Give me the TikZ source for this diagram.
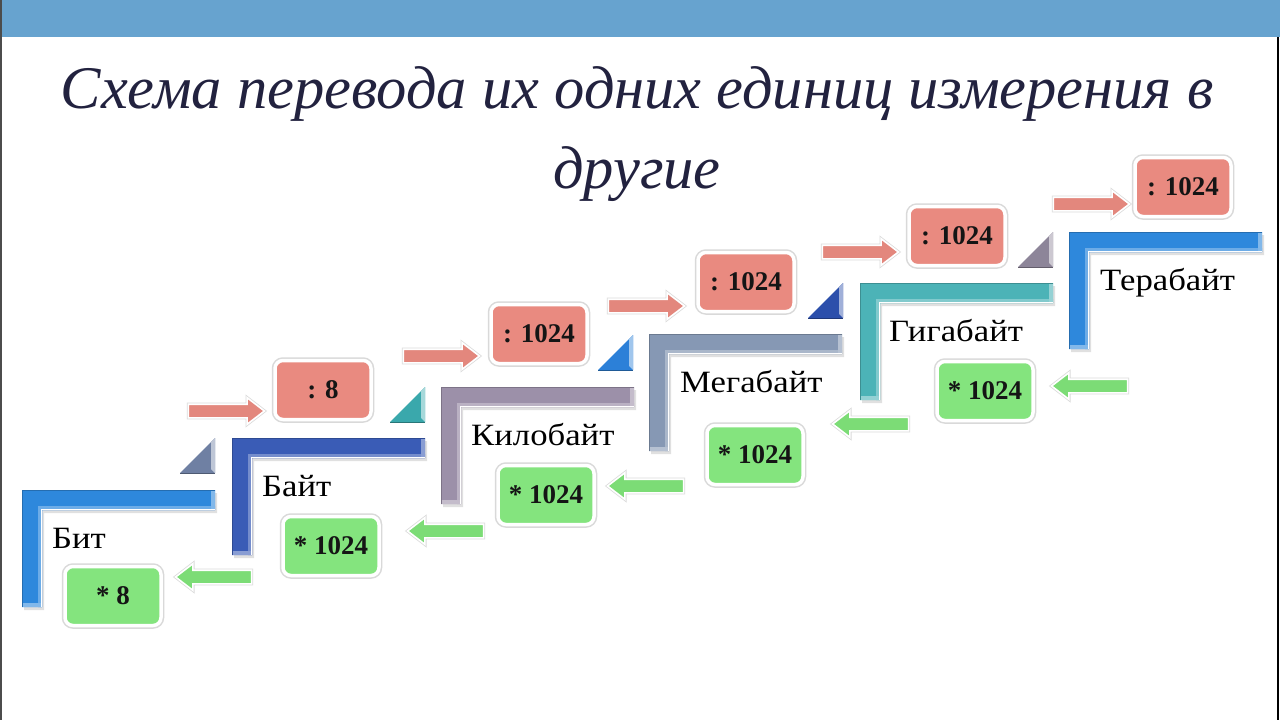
\documentclass[tikz,border=0pt]{standalone}
\usepackage{fontspec}
\setmainfont{Liberation Serif}
\newfontfamily\lblfont{Liberation Serif}[FakeStretch=1.12]
\usetikzlibrary{shapes.arrows}
\definecolor{barblue}{HTML}{67A3CF}
\definecolor{titlecol}{HTML}{22223F}
\definecolor{boxred}{HTML}{E98A80}
\definecolor{boxgreen}{HTML}{84E47E}
\definecolor{arrred}{HTML}{E3877D}
\definecolor{arrgreen}{HTML}{7CDC76}
\definecolor{cblue}{HTML}{2E88DC}
\definecolor{cdblue}{HTML}{3A5CB6}
\definecolor{cmauve}{HTML}{9C90A9}
\definecolor{csteel}{HTML}{8698B4}
\definecolor{cteal}{HTML}{4CB3B7}
\definecolor{tslate}{HTML}{6F80A3}
\definecolor{tteal}{HTML}{3AA8AC}
\definecolor{tblue}{HTML}{2C80D8}
\definecolor{tdblue}{HTML}{2C4FAB}
\definecolor{tmauve}{HTML}{8D8599}
\definecolor{txt}{HTML}{151515}
\newcommand\ubracket[3]{%
  \fill[black!12] ({#1+2},{#2+3}) -- ++(193,0) -- ++(0,20) -- ++(-173,0) -- ++(0,97) -- ++(-20,0) -- cycle;
  \fill[#3] (#1,#2) -- ++(193,0) -- ++(0,20) -- ++(-173,0) -- ++(0,97) -- ++(-20,0) -- cycle;
  \fill[#3!70!white] ({#1+193},{#2+16}) -- ({#1+16},{#2+16}) -- ({#1+16},{#2+117}) -- ({#1+20},{#2+117}) -- ({#1+20},{#2+20}) -- ({#1+193},{#2+20}) -- cycle;
  \draw[white, line width=1.2pt] ({#1+193},{#2+19.5}) -- ({#1+19.5},{#2+19.5}) -- ({#1+19.5},{#2+117});
  \fill[#3!60!white] ({#1+189},{#2+1}) rectangle ({#1+193},{#2+19});
  \fill[#3!60!white] ({#1+1},{#2+113}) rectangle ({#1+19},{#2+117});
  \draw[#3!80!black, line width=0.8pt] ({#1+193},{#2}) -- (#1,#2) -- (#1,{#2+117});
}
\newcommand\utri[3]{%
  \fill[#3] ({#1-35},#2) -- (#1,#2) -- (#1,{#2-35}) -- cycle;
  \fill[#3!45!white] ({#1-4},{#2-31}) -- (#1,{#2-35}) -- (#1,#2) -- ({#1-4},{#2-4}) -- cycle;
  \draw[#3!70!black, line width=0.8pt] ({#1-35},#2) -- (#1,#2);
}
\tikzset{
  lbl/.style={anchor=base west, inner sep=0pt, text=black, font=\lblfont\fontsize{31}{34}\selectfont},
  ttl/.style={anchor=base, inner sep=0pt, text=titlecol, font=\fontsize{60.5}{66}\selectfont\itshape},
  valbox/.style={rounded corners=8pt, minimum width=96pt, minimum height=59pt, inner sep=0pt,
    draw=white, line width=3.5pt, text=txt, font=\fontsize{27}{30}\selectfont\bfseries,
    preaction={draw=black!15, line width=6.5pt}},
  redbox/.style={valbox, fill=boxred},
  greenbox/.style={valbox, fill=boxgreen},
  blockarrow/.style={single arrow, inner sep=0pt, text height=12pt, text depth=0pt, text width=0pt,
    single arrow head extend=6.5pt, single arrow tip angle=75, minimum height=76pt, minimum width=25pt,
    draw=white, line width=1.6pt, preaction={draw=black!14, line width=3.2pt}},
  rarrow/.style={blockarrow, fill=arrred},
  larrow/.style={blockarrow, fill=arrgreen, shape border rotate=180},
}
\begin{document}
\begin{tikzpicture}[x=1pt,y=-1pt]
\useasboundingbox (0,0) rectangle (1280,720);
\fill[white] (0,0) rectangle (1280,720);
\fill[barblue] (0,0) rectangle (1280,37);
\draw[black!70, line width=1.6pt] (0.8,0) -- (0.8,720);
\draw[black, line width=1.8pt] (1278,37) -- (1278,720);

\node[ttl] (t1) at (637,108) {Схема перевода их одних единиц измерения в};
\node[ttl] (t2) at (637,188) {другие};

% brackets
\ubracket{22}{490}{cblue}
\ubracket{232}{438}{cdblue}
\ubracket{441}{387}{cmauve}
\ubracket{649}{334}{csteel}
\ubracket{860}{283}{cteal}
\ubracket{1069}{232}{cblue}

% triangles
\utri{215}{473}{tslate}
\utri{425}{422}{tteal}
\utri{633}{370}{tblue}
\utri{843}{318}{tdblue}
\utri{1053}{267}{tmauve}

% labels
\node[lbl] (bit) at (52,548) {Бит};
\node[lbl] (byte) at (262,496) {Байт};
\node[lbl] (kb) at (471,445) {Килобайт};
\node[lbl] (mb) at (680,392) {Мегабайт};
\node[lbl] (gb) at (889,341) {Гигабайт};
\node[lbl] (tb) at (1100,290) {Терабайт};

% red boxes
\node[redbox] (r1) at (323,390) {: 8};
\node[redbox] (r2) at (539,334) {: 1024};
\node[redbox] (r3) at (746,282) {: 1024};
\node[redbox] (r4) at (957,236) {: 1024};
\node[redbox] (r5) at (1183,187) {: 1024};

% green boxes
\node[greenbox] (g1) at (113,596) {* 8};
\node[greenbox] (g2) at (331,546) {* 1024};
\node[greenbox] (g3) at (546,495) {* 1024};
\node[greenbox] (g4) at (755,455) {* 1024};
\node[greenbox] (g5) at (985,391) {* 1024};

% red arrows
\node[rarrow] (ra1) at (222,411) {};
\node[rarrow] (ra2) at (437,356) {};
\node[rarrow] (ra3) at (642,306) {};
\node[rarrow] (ra4) at (856,252) {};
\node[rarrow] (ra5) at (1087,204) {};

% green arrows
\node[larrow] (ga1) at (218,577) {};
\node[larrow] (ga2) at (450,531) {};
\node[larrow] (ga3) at (650,486) {};
\node[larrow] (ga4) at (875,424) {};
\node[larrow] (ga5) at (1094,386) {};
\end{tikzpicture}
\end{document}
